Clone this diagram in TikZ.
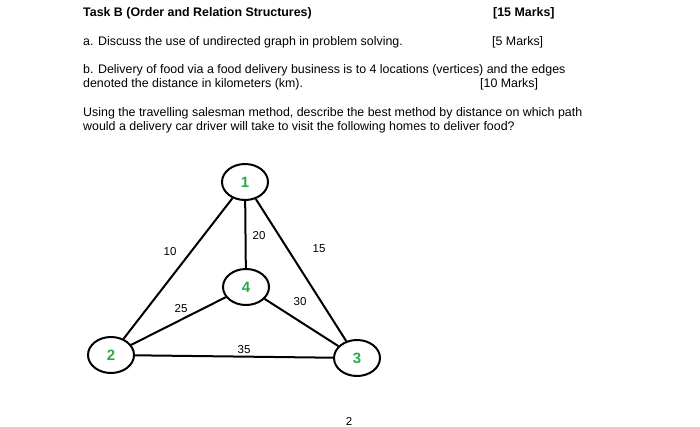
\documentclass[tikz,border=0pt]{standalone}
\usepackage{fontspec}
\setmainfont{Liberation Sans}
\usetikzlibrary{shapes.geometric}
\definecolor{ngreen}{RGB}{40,170,70}
\begin{document}
\begin{tikzpicture}[x=1pt,y=-1pt,
  vert/.style={ellipse,draw,line width=2pt,minimum width=46pt,minimum height=36pt,inner sep=0pt,text=ngreen,font=\fontsize{15}{15}\selectfont\bfseries},
  edge/.style={line width=2pt},
  wt/.style={font=\fontsize{11.5}{11.5}\selectfont,inner sep=0pt},
  txt/.style={anchor=west,inner sep=0pt,font=\fontsize{12.4}{14}\selectfont,align=left}]
\useasboundingbox (0,0) rectangle (700,426);
\node[txt,font=\fontsize{12.4}{14}\selectfont\bfseries] (t1) at (83,13) {Task B (Order and Relation Structures)};
\node[txt,font=\fontsize{12.4}{14}\selectfont\bfseries] (t2) at (493,13) {[15 Marks]};
\node[txt] (a) at (83,42) {a. Discuss the use of undirected graph in problem solving.};
\node[txt] (a2) at (492,42) {[5 Marks]};
\node[txt] (b1) at (83,70) {b. Delivery of food via a food delivery business is to 4 locations (vertices) and the edges};
\node[txt] (b2) at (83,84) {denoted the distance in kilometers (km).};
\node[txt] (b3) at (480,84) {[10 Marks]};
\node[txt] (p1) at (83,113) {Using the travelling salesman method, describe the best method by distance on which path};
\node[txt] (p2) at (83,127) {would a delivery car driver will take to visit the following homes to deliver food?};
\node[vert] (n1) at (245,182) {1};
\node[vert] (n4) at (246,287) {4};
\node[vert] (n2) at (111,355) {2};
\node[vert] (n3) at (357,358) {3};
\draw[edge] (n1) -- (n2);
\draw[edge] (n1) -- (n4);
\draw[edge] (n1) -- (n3);
\draw[edge] (n4) -- (n2);
\draw[edge] (n4) -- (n3);
\draw[edge] (n2) -- (n3);
\node[wt] (w10) at (170,252) {10};
\node[wt] (w20) at (259,236) {20};
\node[wt] (w15) at (319,249) {15};
\node[wt] (w25) at (181,309) {25};
\node[wt] (w30) at (300,302) {30};
\node[wt] (w35) at (244,350) {35};
\node[wt] (pg) at (349,421) {2};
\end{tikzpicture}
\end{document}
